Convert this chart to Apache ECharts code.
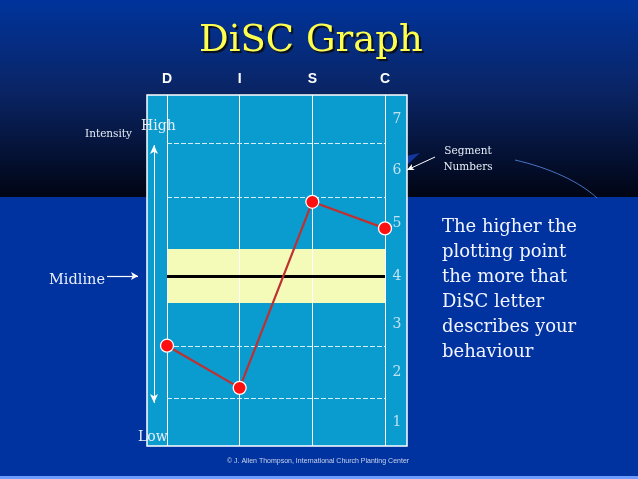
<!DOCTYPE html>
<html>
<head>
<meta charset="utf-8">
<script src="https://cdn.jsdelivr.net/npm/echarts@6/dist/echarts.min.js"></script>
<style>
  html, body { margin: 0; padding: 0; background: #0033a0; }
  #main { width: 638px; height: 479px; }
</style>
</head>
<body>
<div id="main"></div>
<script>
// DiSC letters along the top
var letters = ['D', 'I', 'S', 'C'];
// plotted intensity for each letter (0 = bottom of panel, 7 = top)
var scores = [2.0, 1.16, 4.87, 4.34];
// segment boundaries, bottom to top
var segmentBounds = [0, 0.96, 1.99, 2.85, 3.93, 4.97, 6.04, 7];
var segmentLabels = ['1', '2', '3', '4', '5', '6', '7'];
// the yellow band is segment 4, midline runs through it
var bandLow = 2.85, bandHigh = 3.93, midline = 3.39;
var dashedBounds = [0.96, 1.99, 4.97, 6.04];

var serif = '"DejaVu Serif", "Liberation Serif", serif';

var chart = echarts.init(document.getElementById('main'));

// segment number labels sit in the middle of each segment
var segData = segmentLabels.map(function (s, i) {
  return { value: [3, (segmentBounds[i] + segmentBounds[i + 1]) / 2], name: s };
});

var option = {
  animation: false,
  backgroundColor: '#0033a0',
  title: {
    text: 'DiSC Graph',
    left: 194,
    top: 18,
    textStyle: {
      fontFamily: serif,
      fontSize: 37,
      fontWeight: 'normal',
      color: '#ffff4f',
      textShadowColor: 'rgba(10,10,10,0.9)',
      textShadowOffsetX: 2,
      textShadowOffsetY: 2,
      textShadowBlur: 1
    }
  },
  grid: { left: 167, right: 253, top: 95, bottom: 33 },
  xAxis: {
    type: 'category',
    data: letters,
    position: 'top',
    boundaryGap: false,
    z: 5,
    axisLine: { show: false },
    axisTick: { show: false },
    splitLine: { show: false },
    axisLabel: {
      color: '#ffffff',
      fontFamily: '"Liberation Sans", Arial, sans-serif',
      fontWeight: 900,
      fontSize: 14,
      margin: 9
    }
  },
  yAxis: {
    type: 'value',
    min: 0,
    max: 7,
    show: false
  },
  graphic: [
    // dark top half of the slide
    { type: 'rect', z: -10, shape: { x: 0, y: 0, width: 638, height: 197 },
      style: { fill: new echarts.graphic.LinearGradient(0, 0, 0, 1, [
        { offset: 0, color: '#00349c' },
        { offset: 0.45, color: '#0a2566' },
        { offset: 1, color: '#010514' }
      ]) } },
    { type: 'rect', z: -10, shape: { x: 0, y: 476, width: 638, height: 3 },
      style: { fill: '#6d9cff' } },
    { type: 'bezierCurve', z: -9,
      shape: { x1: 515, y1: 160, x2: 597, y2: 198, cpx1: 550, cpy1: 168, cpx2: 580, cpy2: 182 },
      style: { stroke: 'rgba(90,140,230,0.8)', lineWidth: 1, fill: null } },
    { type: 'polygon', z: -9,
      shape: { points: [[406, 156], [420, 153], [406, 166]] },
      style: { fill: '#12389f' } },
    // light panel behind the grid
    { type: 'rect', z: -5, shape: { x: 147, y: 95, width: 260, height: 351 },
      style: { fill: '#0a9bcf', stroke: '#ffffff', lineWidth: 1.5 } },
    { type: 'text', z: 10, x: 141, y: 119,
      style: { text: 'High', font: '14px ' + serif, fill: '#e8eef8' } },
    { type: 'text', z: 10, x: 138, y: 430,
      style: { text: 'Low', font: '14px ' + serif, fill: '#e8eef8' } },
    { type: 'text', z: 10, x: 85, y: 129,
      style: { text: 'Intensity', font: '10.5px ' + serif, fill: '#e8eef8' } },
    { type: 'text', z: 10, x: 49, y: 273,
      style: { text: 'Midline', font: '14.5px ' + serif, fill: '#e8eef8' } },
    { type: 'text', z: 10, x: 468, y: 143,
      style: { text: 'Segment\nNumbers', font: '10.5px ' + serif, lineHeight: 16, fill: '#e8eef8', align: 'center' } },
    { type: 'text', z: 10, x: 442, y: 215,
      style: {
        text: 'The higher the\nplotting point\nthe more that\nDiSC letter\ndescribes your\nbehaviour',
        font: '18px ' + serif, lineHeight: 25, fill: '#f2f5ff'
      } },
    { type: 'text', z: 10, x: 318, y: 461,
      style: {
        text: '\u00a9 J. Allen Thompson, International Church Planting Center',
        font: '7px "Liberation Sans", Arial, sans-serif', fill: '#c9d3ea',
        align: 'center', verticalAlign: 'middle'
      } }
  ],
  series: [
    {
      // solid column lines under D, I, S, C plus dashed segment lines
      name: 'columns',
      type: 'line',
      data: [],
      z: 2,
      markLine: {
        silent: true,
        symbol: 'none',
        label: { show: false },
        lineStyle: { color: '#ffffff', type: 'solid', width: 1 },
        data: letters.map(function (l, i) {
          return [{ coord: [i, 0] }, { coord: [i, 7] }];
        }).concat(dashedBounds.map(function (b) {
          return [{ coord: [0, b], lineStyle: { type: [5, 2], color: '#d5effa' } },
                  { coord: [3, b] }];
        }))
      }
    },
    {
      name: 'band',
      type: 'line',
      data: [],
      z: 3,
      markArea: {
        silent: true,
        itemStyle: { color: '#f4fab8', opacity: 1 },
        data: [[{ coord: [0, bandHigh] }, { coord: [3, bandLow] }]]
      }
    },
    {
      name: 'guides',
      type: 'line',
      data: [],
      z: 4,
      markLine: {
        silent: true,
        label: { show: false },
        data: [
          [{ coord: [0.04, midline], symbol: 'none', lineStyle: { color: '#000000', width: 3, type: 'solid' } },
           { coord: [2.97, midline], symbol: 'none' }],
          // intensity arrow on the left
          [{ x: 154, y: 145, symbol: 'arrow', symbolSize: [6, 9], lineStyle: { color: '#ffffff', width: 1, type: 'solid' } },
           { x: 154, y: 403, symbol: 'arrow', symbolSize: [6, 9] }],
          // midline pointer
          [{ x: 107, y: 276, symbol: 'none', lineStyle: { color: '#ffffff', width: 1.2, type: 'solid' } },
           { x: 138, y: 276, symbol: 'arrow', symbolSize: [6, 7] }],
          // segment numbers pointer
          [{ x: 435, y: 157, symbol: 'none', lineStyle: { color: '#ffffff', width: 1, type: 'solid' } },
           { x: 407, y: 170, symbol: 'arrow', symbolSize: [5, 7] }]
        ]
      }
    },
    {
      name: 'segments',
      type: 'scatter',
      z: 4,
      symbolSize: 0,
      data: segData,
      label: {
        show: true,
        formatter: '{b}',
        position: 'inside',
        offset: [12, 0],
        color: '#eef4fb',
        fontFamily: serif,
        fontSize: 14
      }
    },
    {
      name: 'score',
      type: 'line',
      z: 6,
      data: scores,
      symbol: 'circle',
      symbolSize: 13,
      lineStyle: { color: '#bf3030', width: 2.2 },
      itemStyle: { color: '#ff1010', borderColor: '#ffffff', borderWidth: 1.3 }
    }
  ]
};

chart.setOption(option);
</script>
</body>
</html>
